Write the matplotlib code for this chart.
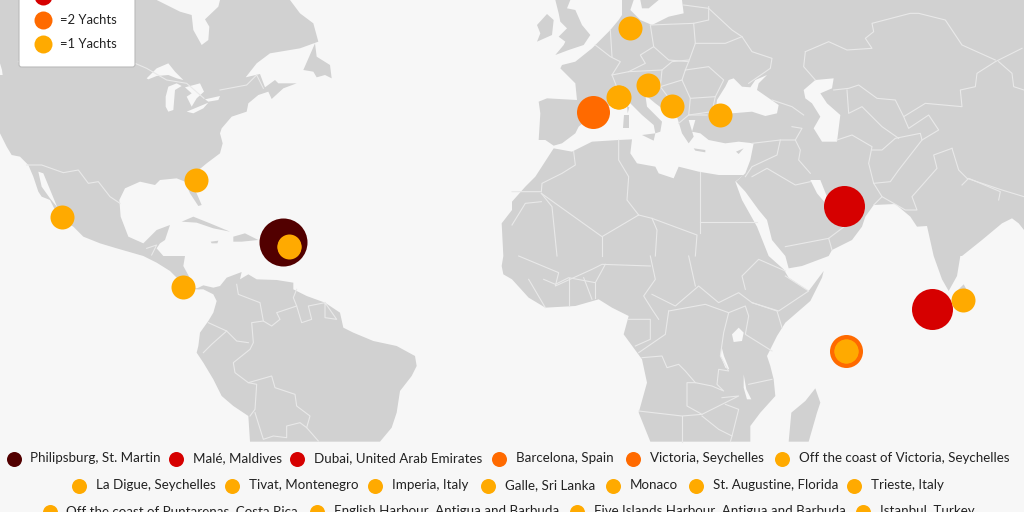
import numpy as np
import matplotlib
matplotlib.use("Agg")
import matplotlib.pyplot as plt
from matplotlib.patches import Polygon, FancyBboxPatch

# places, same order as the legend at the bottom
places = ["Philipsburg, St. Martin", "Malé, Maldives", "Dubai, United Arab Emirates",
          "Barcelona, Spain", "Victoria, Seychelles", "Off the coast of Victoria, Seychelles",
          "La Digue, Seychelles", "Tivat, Montenegro", "Imperia, Italy", "Galle, Sri Lanka",
          "Monaco", "St. Augustine, Florida", "Trieste, Italy",
          "Off the coast of Puntarenas, Costa Rica", "English Harbour, Antigua and Barbuda",
          "Five Islands Harbour, Antigua and Barbuda", "Istanbul, Turkey"]
lons = [-63.05, 73.5, 55.0, 2.17, 55.45, 55.45, 55.45, 18.7, 7.6, 79.9, 7.4, -81.2, 13.77,
        -84.0, -61.75, -61.85, 28.98]
lats = [18.03, 4.17, 25.1, 41.4, -4.62, -4.62, -4.62, 42.43, 43.8, 6.03, 43.73, 29.9, 45.65,
        8.9, 17.0, 17.1, 41.0]
yachts = [4, 3, 3, 2, 2, 1, 1, 1, 1, 1, 1, 1, 1, 1, 1, 1, 1]

# two more stops on the map, their legend row is cut off by the image
extra_lons = [-109.4, 10.0]
extra_lats = [22.9, 53.4]
extra_yachts = [1, 1]

key_counts = [3, 2, 1]
colors = {4: "#520000", 3: "#d60000", 2: "#ff6a00", 1: "#ffaa00"}
radius = {4: 24, 3: 20.5, 2: 16.5, 1: 12}

BG = "#f7f7f7"
LAND = "#d1d1d1"
LINE = "#e9e9e9"
FONT = "Lato"
TEXT = "#222222"


def project(lon, lat):
    # mercator, fitted on the picture
    lat = np.radians(np.asarray(lat, dtype=float))
    x = 582.6 + 4.755 * np.asarray(lon, dtype=float)
    y = 329 - 272.4 * np.log(np.tan(np.pi / 4 + lat / 2))
    return x, y


def z(quadrant, pts):
    # outlines were traced on 3x crops of each quarter of the picture
    dx = 512 if quadrant in (2, 4) else 0
    dy = 256 if quadrant in (3, 4) else 0
    return [(a / 3 + dx, b / 3 + dy) for a, b in pts]


north_america = z(1, [(0, 0), (470, 0), (540, 35), (575, 45), (580, 90), (605, 135), (625, 120), (628, 80),
                      (615, 58), (655, 20), (660, 0), (870, 0), (900, 40), (940, 70), (955, 125), (900, 145),
                      (810, 160), (770, 190), (737, 232), (780, 222), (795, 262), (825, 240), (835, 250),
                      (890, 250), (850, 265), (815, 297), (805, 275), (775, 285), (745, 310), (740, 335),
                      (695, 350), (665, 385), (660, 400), (668, 430), (660, 460), (620, 490), (590, 515),
                      (575, 560), (590, 580), (605, 615), (595, 618), (570, 580), (555, 545), (530, 535),
                      (480, 540), (465, 555), (420, 545), (375, 565), (358, 600), (362, 650), (385, 710),
                      (430, 730), (450, 710), (470, 690), (510, 675), (495, 720), (480, 730), (470, 745),
                      (490, 768)]) + \
    z(3, [(555, 0), (550, 30), (585, 95), (600, 100), (560, 95), (510, 45), (470, 20), (430, 0)]) + \
    z(1, [(350, 745), (300, 730), (250, 710), (220, 680), (185, 660), (165, 630), (150, 600), (125, 590),
          (115, 575), (100, 530), (85, 495), (60, 470), (35, 465), (20, 440), (0, 400)])
south_america = z(3, [(585, 100), (610, 88), (640, 95), (660, 90), (680, 65), (725, 48), (720, 70), (745, 55),
                      (770, 70), (830, 72), (880, 80), (880, 100), (920, 120), (975, 140), (1020, 170),
                      (1030, 215), (1060, 230), (1120, 255), (1190, 270), (1245, 300), (1250, 330), (1235, 360),
                      (1200, 405), (1190, 470), (1175, 515), (1140, 557), (750, 557), (745, 480), (700, 450),
                      (665, 420), (640, 370), (610, 320), (590, 290), (595, 270), (600, 230), (625, 195),
                      (640, 170), (650, 135), (640, 115), (610, 100)])
eurasia = z(2, [(510, 0), (1536, 0), (1536, 690), (1520, 670), (1500, 655), (1470, 670), (1410, 720), (1350, 768)]) + \
    z(4, [(1345, 0), (1335, 60), (1310, 105), (1290, 70), (1265, 0)]) + \
    z(2, [(1245, 678), (1215, 680), (1195, 650), (1150, 612), (1085, 615), (1060, 650), (1050, 680),
          (1020, 720), (960, 750), (950, 768)]) + \
    z(4, [(870, 30), (830, 37), (820, 0)]) + \
    z(2, [(780, 720), (765, 660), (740, 630), (700, 575), (672, 545), (700, 520), (715, 480), (725, 430),
          (680, 425), (640, 430), (590, 420), (565, 400), (540, 395), (550, 360), (530, 360), (545, 410),
          (530, 430), (510, 400), (495, 350), (470, 340), (430, 310), (400, 285), (405, 320), (450, 365),
          (445, 395), (430, 400), (425, 375), (390, 345), (355, 310), (330, 300), (300, 315), (260, 330),
          (200, 380), (190, 400), (150, 430), (125, 437), (100, 420), (80, 420), (85, 340), (80, 305),
          (105, 295), (195, 300), (190, 250), (145, 205), (150, 195), (190, 185), (240, 145), (250, 135),
          (295, 90), (320, 60), (330, 45), (330, 0), (365, 0), (355, 30), (385, 60), (420, 75), (470, 50),
          (515, 40)])
africa = z(1, [(1536, 630), (1505, 670), (1510, 768)]) + \
    z(3, [(1505, 30), (1510, 55), (1536, 70)]) + \
    z(4, [(50, 125), (100, 155), (190, 150), (260, 130), (300, 155), (350, 180), (335, 235), (390, 310),
          (405, 380), (380, 470), (415, 557), (715, 557), (715, 510), (745, 470), (790, 420), (785, 370),
          (775, 330), (765, 300), (795, 240), (820, 200), (895, 135), (930, 65), (935, 45), (890, 105),
          (830, 65), (815, 40), (770, 0)]) + \
    z(2, [(735, 680), (690, 600), (670, 545), (695, 525), (620, 525), (560, 515), (500, 500), (485, 535),
          (440, 520), (430, 500), (375, 490), (355, 460), (360, 418), (320, 420), (240, 425), (180, 455),
          (125, 445), (70, 530), (40, 560), (0, 605)])
islands = [
    z(2, [(130, 0), (175, 0), (165, 25), (190, 30), (210, 75), (235, 105), (215, 135), (170, 150), (130, 165),
          (155, 135), (160, 125), (140, 110), (165, 85), (145, 65), (140, 40)]),  # britain
    z(2, [(75, 75), (105, 42), (125, 60), (120, 105), (75, 125), (85, 100)]),  # ireland
    z(2, [(385, 0), (440, 0), (410, 25), (390, 25)]),  # sweden
    z(2, [(390, 405), (430, 400), (425, 422)]),  # sicily
    z(2, [(335, 345), (350, 345), (350, 385), (332, 385)]),  # sardinia
    z(2, [(345, 318), (352, 322), (347, 340)]),  # corsica
    z(2, [(545, 445), (580, 450), (580, 457), (550, 452)]),  # crete
    z(2, [(672, 455), (695, 445), (680, 462)]),  # cyprus
    z(4, [(910, 397), (925, 440), (915, 470), (890, 557), (830, 557), (838, 470), (880, 435)]),  # madagascar
    z(4, [(1340, 100), (1355, 85), (1380, 130), (1350, 165), (1320, 140)]),  # sri lanka
    z(1, [(545, 665), (580, 650), (630, 670), (690, 695), (640, 685), (590, 668)]),  # cuba
    z(1, [(700, 710), (735, 700), (775, 720), (725, 725), (700, 725)]),  # hispaniola
    z(1, [(632, 725), (655, 722), (652, 730), (635, 730)]),  # jamaica
    z(1, [(910, 210), (945, 130), (950, 170), (990, 195), (995, 235), (975, 225), (950, 232), (940, 215)]),  # newfoundland
]
# seas and lakes cut out of the land
water = [
    z(2, [(650, 240), (665, 235), (690, 260), (715, 262), (730, 240), (765, 225), (740, 250), (735, 270),
          (800, 315), (795, 340), (760, 348), (720, 335), (660, 340), (610, 345), (615, 300), (640, 260)]),
    z(2, [(875, 270), (910, 240), (965, 235), (960, 265), (925, 280), (945, 310), (985, 345), (975, 425),
          (930, 425), (905, 385), (925, 350), (900, 310), (880, 295)]),
    z(2, [(895, 540), (925, 540), (945, 590), (945, 615), (915, 580)]),
    z(1, [(115, 515), (130, 520), (172, 622), (150, 595), (125, 560)]),  # gulf of california
    z(1, [(0, 190), (6, 210), (8, 225), (0, 225)]),
    z(1, [(440, 235), (470, 205), (505, 190), (525, 215), (550, 240), (530, 235), (505, 225), (470, 228), (445, 238)]),  # superior
    z(1, [(497, 290), (505, 260), (530, 250), (545, 258), (525, 270), (520, 330), (505, 335), (497, 320)]),  # michigan
    z(1, [(555, 262), (600, 250), (612, 275), (590, 295), (575, 320), (560, 290), (575, 280)]),  # huron
    z(1, [(560, 335), (625, 308), (610, 325), (580, 340)]),  # erie
    z(1, [(615, 298), (660, 288), (655, 300), (625, 305)]),  # ontario
    z(4, [(660, 235), (680, 215), (695, 230), (690, 255), (665, 258)]),  # victoria
    z(4, [(628, 270), (636, 300), (652, 340), (640, 335), (626, 300)]),  # tanganyika
    z(4, [(695, 355), (703, 400), (718, 430), (705, 430), (695, 395)]),  # malawi
]

borders = [
    z(1, [(55, 185), (405, 190), (440, 205), (500, 240), (560, 250), (612, 295)]),
    z(1, [(660, 270), (740, 255), (770, 225), (790, 265)]),
    z(1, [(80, 495), (125, 495), (190, 518), (235, 510), (265, 550), (295, 545), (330, 590), (360, 610)]),
    z(1, [(440, 745), (470, 735), (455, 765)]),
    z(2, [(250, 135), (295, 170), (325, 185), (300, 225), (330, 300)]),
    z(2, [(295, 90), (300, 170)]),
    z(2, [(300, 225), (350, 215), (400, 190), (385, 165), (425, 140), (415, 75)]),
    z(2, [(415, 75), (545, 70), (550, 130), (530, 185), (470, 180), (425, 140)]),
    z(2, [(550, 130), (640, 130), (690, 110), (720, 155), (780, 175), (775, 205), (710, 250)]),
    z(2, [(530, 185), (520, 210), (590, 200), (635, 240), (610, 290), (535, 295), (510, 240), (520, 210)]),
    z(2, [(535, 295), (530, 345), (600, 335), (610, 290)]),
    z(2, [(515, 15), (590, 25), (660, 90), (690, 110)]),
    z(2, [(545, 70), (590, 60), (590, 20)]),
    z(2, [(350, 215), (450, 210), (480, 185), (530, 180)]),
    z(2, [(450, 210), (445, 260), (510, 240)]),
    z(2, [(445, 260), (490, 320), (500, 350)]),
    z(2, [(585, 345), (530, 345), (500, 370)]),
    z(2, [(780, 300), (840, 320), (875, 345)]),
    z(2, [(840, 380), (870, 385), (850, 420), (805, 420), (720, 430)]),
    z(2, [(805, 420), (795, 465), (720, 500), (700, 530)]),
    z(2, [(850, 420), (865, 450), (860, 480), (895, 520)]),
    z(2, [(720, 530), (765, 505), (850, 555), (895, 545)]),
    z(2, [(880, 155), (950, 125), (1005, 150), (1080, 145), (1060, 115), (1085, 95), (1080, 70), (1195, 40),
          (1220, 40), (1300, 60), (1350, 135), (1450, 180)]),
    z(2, [(880, 155), (875, 200), (910, 240)]),
    z(2, [(965, 270), (1010, 265), (1040, 255), (1095, 295), (1150, 300), (1175, 350), (1240, 310), (1350, 320),
          (1345, 270), (1390, 260), (1395, 220), (1450, 185), (1530, 145)]),
    z(2, [(1460, 185), (1500, 220), (1505, 260), (1536, 270)]),
    z(2, [(1005, 270), (1010, 340), (1050, 320), (1110, 380), (1160, 415)]),
    z(2, [(975, 420), (1020, 405), (1080, 440), (1070, 490), (1085, 550), (1110, 590), (1085, 615)]),
    z(2, [(1080, 450), (1110, 450), (1150, 415), (1225, 400), (1230, 420), (1160, 510), (1135, 545), (1085, 550)]),
    z(2, [(1175, 350), (1190, 385), (1250, 345), (1280, 390), (1230, 420)]),
    z(2, [(1110, 590), (1180, 630), (1215, 630), (1200, 590), (1275, 505), (1265, 465), (1320, 445)]),
    z(2, [(1320, 445), (1340, 510), (1365, 535), (1470, 570), (1536, 590)]),
    z(2, [(1350, 555), (1370, 535), (1465, 575), (1460, 600)]),
    z(2, [(820, 740), (950, 715), (960, 750)]),
    z(2, [(950, 715), (1010, 670)]),
    z(2, [(185, 455), (190, 495), (150, 520), (90, 550), (88, 575), (0, 575)]),
    z(2, [(88, 580), (270, 710), (380, 645), (345, 600), (350, 530), (320, 480), (320, 420)]),
    z(2, [(270, 710), (270, 768)]),
    z(2, [(565, 515), (565, 700)]),
    z(2, [(565, 665), (735, 665)]),
    z(2, [(380, 645), (420, 655), (555, 705), (550, 768)]),
    z(2, [(420, 655), (435, 690), (430, 768)]),
    z(2, [(88, 580), (120, 620), (135, 768)]),
    z(2, [(0, 675), (40, 610), (88, 605)]),
    z(4, [(415, 0), (430, 70), (395, 120), (420, 160), (440, 190)]),
    z(4, [(20, 0), (140, 50), (130, 90), (240, 40), (270, 25), (415, 30)]),
    z(4, [(420, 115), (490, 150), (560, 90), (620, 140), (680, 110), (720, 140), (795, 165), (810, 215)]),
    z(4, [(720, 140), (800, 165), (890, 105), (820, 60)]),
    z(4, [(700, 100), (690, 60), (740, 10), (820, 45)]),
    z(4, [(530, 0), (550, 90)]),
    z(4, [(470, 165), (580, 145), (650, 170), (635, 230), (625, 300), (650, 345), (620, 340), (615, 385),
          (635, 405), (600, 390), (550, 380), (520, 345), (500, 325), (465, 335), (450, 300), (390, 305)]),
    z(4, [(470, 165), (460, 235), (380, 290)]),
    z(4, [(550, 380), (525, 380), (525, 450), (570, 475), (510, 480), (380, 465)]),
    z(4, [(650, 170), (700, 150), (710, 180), (700, 235), (780, 285)]),
    z(4, [(710, 385), (780, 370)]),
    z(4, [(570, 475), (640, 440), (680, 420), (630, 425)]),
    z(4, [(570, 480), (620, 520), (660, 540), (680, 460), (640, 445)]),
    z(4, [(510, 480), (510, 557)]),
    z(4, [(660, 540), (655, 557)]),
    z(4, [(50, 70), (100, 155)]),
    z(4, [(170, 65), (170, 150)]),
    z(4, [(215, 65), (240, 130)]),
    z(4, [(250, 80), (250, 125)]),
    z(4, [(95, 70), (130, 85), (170, 65), (250, 80), (280, 25)]),
    z(4, [(350, 190), (415, 190), (415, 250), (370, 270)]),
    z(3, [(710, 85), (715, 115), (780, 140), (790, 195), (815, 210), (840, 190), (830, 170), (890, 150),
          (880, 125), (890, 100)]),
    z(3, [(890, 150), (905, 200), (935, 190), (925, 150), (975, 140), (975, 185), (1010, 190), (975, 140)]),
    z(3, [(790, 195), (755, 200), (760, 260), (750, 280), (700, 320), (705, 350), (745, 380), (815, 360),
          (825, 395), (885, 415), (890, 450), (930, 480), (920, 515), (955, 555)]),
    z(3, [(625, 200), (680, 225), (710, 255), (745, 260)]),
    z(3, [(680, 225), (635, 265), (610, 290)]),
    z(3, [(745, 380), (770, 385), (765, 460), (750, 480)]),
    z(3, [(765, 470), (790, 550), (820, 540), (860, 545), (860, 510), (900, 500), (920, 515)]),
]

# legend layout, pixels
legend_rows = [(458, [13.5, 176, 297, 498.5, 632.7, 782]),
               (485, [78.5, 232, 375, 488, 613, 695.7, 854]),
               (511, [49.5, 317, 577, 863])]

fig = plt.figure(figsize=(10.24, 5.12), dpi=100, facecolor=BG)
ax = fig.add_axes([0, 0, 1, 1])
ax.set_xlim(0, 1024)
ax.set_ylim(512, 0)
ax.axis("off")

for shape in [north_america, south_america, eurasia, africa] + islands:
    ax.add_patch(Polygon(shape, closed=True, fc=LAND, ec="none", zorder=1))
for shape in water:
    ax.add_patch(Polygon(shape, closed=True, fc=BG, ec="none", zorder=2))
for line in borders:
    xs, ys = zip(*line)
    ax.plot(xs, ys, color=LINE, lw=0.8, zorder=3, solid_joinstyle="round")


def size(n):
    return (2 * radius[n] * 72 / fig.dpi) ** 2


x, y = project(lons, lats)
for i in range(len(places)):
    ax.scatter(x[i], y[i], s=size(yachts[i]), color=colors[yachts[i]], linewidths=0, zorder=4 + i * 0.01)
ex, ey = project(extra_lons, extra_lats)
for i in range(len(extra_lons)):
    ax.scatter(ex[i], ey[i], s=size(extra_yachts[i]), color=colors[extra_yachts[i]], linewidths=0, zorder=4)

# colour key, top left, cut off by the image
ax.add_patch(FancyBboxPatch((19, -40), 116, 107, boxstyle="round,pad=0,rounding_size=2.5",
                            fc="white", ec="#bbbbbb", lw=0.8, zorder=6))
for i, n in enumerate(key_counts):
    ky = -4 + 24 * i
    ax.scatter(43, ky, s=(18 * 72 / fig.dpi) ** 2, color=colors[n], linewidths=0, zorder=7, clip_on=True)
    ax.text(59.5, ky, f"={n} Yachts", fontsize=9.4, family=FONT, color=TEXT, va="center", zorder=7)

k = 0
for row_y, row_x in legend_rows:
    for mx in row_x:
        ax.scatter(mx, row_y + 0.5, s=(15 * 72 / fig.dpi) ** 2, color=colors[yachts[k]], linewidths=0, zorder=7)
        ax.text(mx + 17, row_y, places[k], fontsize=9.65, family=FONT, color=TEXT, va="center", zorder=7)
        k += 1

fig.savefig("out.png", dpi=100, facecolor=BG)
